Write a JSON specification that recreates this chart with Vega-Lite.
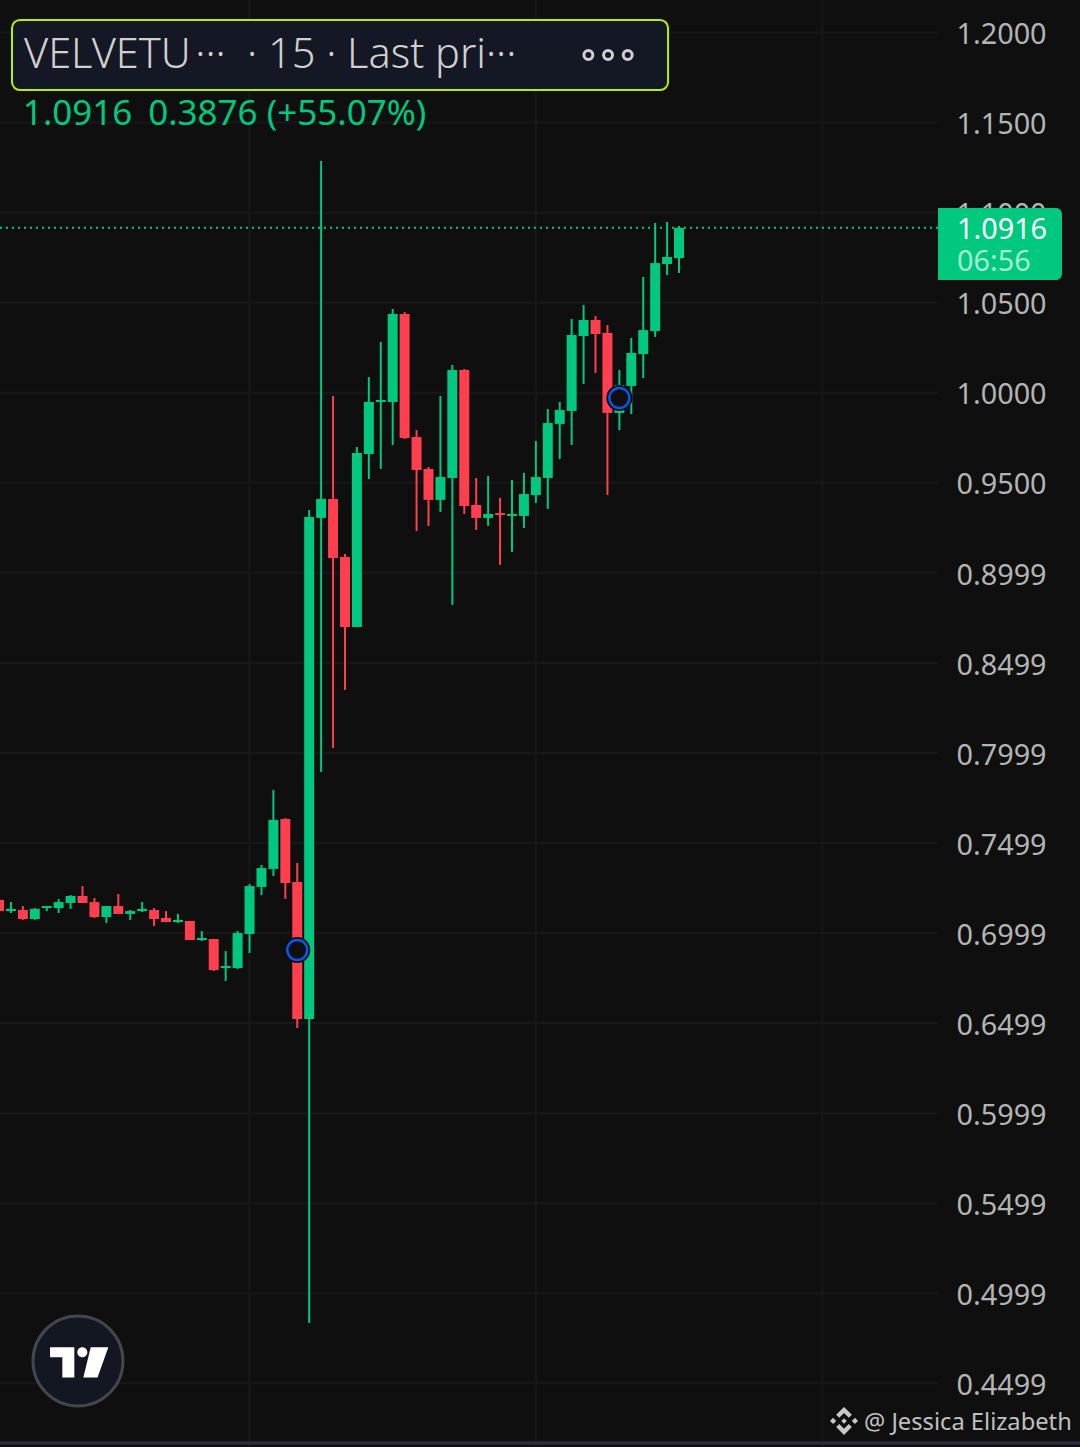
{
  "$schema": "https://vega.github.io/schema/vega-lite/v6.json",
  "width": 1080,
  "height": 1447,
  "padding": 0,
  "autosize": {"type": "none"},
  "background": "#0f0f0f",
  "config": {"view": {"stroke": null}, "font": "Noto Sans"},
  "data": {"values": [{}]},
  "datasets": {
    "candles": [
      {"bar": 0, "open": 0.7184, "high": 0.7184, "low": 0.7122, "close": 0.7122},
      {"bar": 1, "open": 0.7122, "high": 0.7172, "low": 0.7111, "close": 0.7134},
      {"bar": 2, "open": 0.7128, "high": 0.7150, "low": 0.7073, "close": 0.7078},
      {"bar": 3, "open": 0.7078, "high": 0.7139, "low": 0.7073, "close": 0.7134},
      {"bar": 4, "open": 0.7139, "high": 0.7150, "low": 0.7122, "close": 0.7150},
      {"bar": 5, "open": 0.7139, "high": 0.7189, "low": 0.7111, "close": 0.7172},
      {"bar": 6, "open": 0.7167, "high": 0.7211, "low": 0.7134, "close": 0.7206},
      {"bar": 7, "open": 0.7206, "high": 0.7261, "low": 0.7167, "close": 0.7167},
      {"bar": 8, "open": 0.7172, "high": 0.7195, "low": 0.7084, "close": 0.7089},
      {"bar": 9, "open": 0.7089, "high": 0.7150, "low": 0.7056, "close": 0.7150},
      {"bar": 10, "open": 0.7150, "high": 0.7217, "low": 0.7106, "close": 0.7106},
      {"bar": 11, "open": 0.7106, "high": 0.7128, "low": 0.7073, "close": 0.7122},
      {"bar": 12, "open": 0.7122, "high": 0.7172, "low": 0.7117, "close": 0.7134},
      {"bar": 13, "open": 0.7128, "high": 0.7139, "low": 0.7039, "close": 0.7078},
      {"bar": 14, "open": 0.7084, "high": 0.7122, "low": 0.7061, "close": 0.7061},
      {"bar": 15, "open": 0.7061, "high": 0.7106, "low": 0.7056, "close": 0.7073},
      {"bar": 16, "open": 0.7067, "high": 0.7067, "low": 0.6961, "close": 0.6961},
      {"bar": 17, "open": 0.6961, "high": 0.7011, "low": 0.6956, "close": 0.6973},
      {"bar": 18, "open": 0.6967, "high": 0.6967, "low": 0.6789, "close": 0.6795},
      {"bar": 19, "open": 0.6806, "high": 0.6900, "low": 0.6734, "close": 0.6817},
      {"bar": 20, "open": 0.6806, "high": 0.7011, "low": 0.6800, "close": 0.7000},
      {"bar": 21, "open": 0.6995, "high": 0.7272, "low": 0.6889, "close": 0.7261},
      {"bar": 22, "open": 0.7256, "high": 0.7378, "low": 0.7211, "close": 0.7361},
      {"bar": 23, "open": 0.7356, "high": 0.7794, "low": 0.7317, "close": 0.7628},
      {"bar": 24, "open": 0.7633, "high": 0.7639, "low": 0.7189, "close": 0.7278},
      {"bar": 25, "open": 0.7283, "high": 0.7389, "low": 0.6473, "close": 0.6523},
      {"bar": 26, "open": 0.6523, "high": 0.9349, "low": 0.4835, "close": 0.9310},
      {"bar": 27, "open": 0.9305, "high": 1.1287, "low": 0.7894, "close": 0.9410},
      {"bar": 28, "open": 0.9410, "high": 0.9982, "low": 0.8027, "close": 0.9082},
      {"bar": 29, "open": 0.9088, "high": 0.9105, "low": 0.8350, "close": 0.8699},
      {"bar": 30, "open": 0.8699, "high": 0.9699, "low": 0.8699, "close": 0.9666},
      {"bar": 31, "open": 0.9660, "high": 1.0087, "low": 0.9521, "close": 0.9949},
      {"bar": 32, "open": 0.9949, "high": 1.0282, "low": 0.9577, "close": 0.9960},
      {"bar": 33, "open": 0.9949, "high": 1.0465, "low": 0.9710, "close": 1.0437},
      {"bar": 34, "open": 1.0437, "high": 1.0448, "low": 0.9743, "close": 0.9749},
      {"bar": 35, "open": 0.9754, "high": 0.9793, "low": 0.9232, "close": 0.9571},
      {"bar": 36, "open": 0.9577, "high": 0.9588, "low": 0.9260, "close": 0.9405},
      {"bar": 37, "open": 0.9405, "high": 0.9982, "low": 0.9338, "close": 0.9532},
      {"bar": 38, "open": 0.9527, "high": 1.0154, "low": 0.8822, "close": 1.0126},
      {"bar": 39, "open": 1.0126, "high": 1.0132, "low": 0.9327, "close": 0.9371},
      {"bar": 40, "open": 0.9377, "high": 0.9527, "low": 0.9238, "close": 0.9305},
      {"bar": 41, "open": 0.9305, "high": 0.9538, "low": 0.9260, "close": 0.9327},
      {"bar": 42, "open": 0.9332, "high": 0.9416, "low": 0.9044, "close": 0.9321},
      {"bar": 43, "open": 0.9316, "high": 0.9516, "low": 0.9116, "close": 0.9327},
      {"bar": 44, "open": 0.9316, "high": 0.9555, "low": 0.9249, "close": 0.9438},
      {"bar": 45, "open": 0.9432, "high": 0.9732, "low": 0.9388, "close": 0.9532},
      {"bar": 46, "open": 0.9527, "high": 0.9910, "low": 0.9355, "close": 0.9832},
      {"bar": 47, "open": 0.9827, "high": 0.9949, "low": 0.9632, "close": 0.9904},
      {"bar": 48, "open": 0.9899, "high": 1.0410, "low": 0.9710, "close": 1.0321},
      {"bar": 49, "open": 1.0315, "high": 1.0487, "low": 1.0049, "close": 1.0404},
      {"bar": 50, "open": 1.0404, "high": 1.0426, "low": 1.0110, "close": 1.0326},
      {"bar": 51, "open": 1.0332, "high": 1.0376, "low": 0.9432, "close": 0.9888},
      {"bar": 52, "open": 0.9888, "high": 1.0126, "low": 0.9793, "close": 1.0043},
      {"bar": 53, "open": 1.0038, "high": 1.0304, "low": 0.9882, "close": 1.0221},
      {"bar": 54, "open": 1.0215, "high": 1.0643, "low": 1.0082, "close": 1.0348},
      {"bar": 55, "open": 1.0343, "high": 1.0943, "low": 1.0310, "close": 1.0720},
      {"bar": 56, "open": 1.0715, "high": 1.0948, "low": 1.0654, "close": 1.0754},
      {"bar": 57, "open": 1.0748, "high": 1.0926, "low": 1.0665, "close": 1.0916}
    ],
    "levels": [
      {"price": 1.2}, {"price": 1.15}, {"price": 1.1}, {"price": 1.05},
      {"price": 1.0}, {"price": 0.95}, {"price": 0.9}, {"price": 0.85},
      {"price": 0.8}, {"price": 0.75}, {"price": 0.7}, {"price": 0.65},
      {"price": 0.6}, {"price": 0.55}, {"price": 0.5}, {"price": 0.45}
    ],
    "sessions": [{"bar": 21}, {"bar": 45}, {"bar": 69}],
    "markers": [{"bar": 25, "price": 0.6906}, {"bar": 52, "price": 0.9971}],
    "menu": [{"bar": 49.4, "price": 1.1875}, {"bar": 51.05, "price": 1.1875}, {"bar": 52.7, "price": 1.1875}]
  },
  "encoding": {
    "x": {"type": "quantitative", "scale": {"domain": [0.0838, 90.61], "padding": 0}, "axis": null},
    "y": {
      "type": "quantitative",
      "scale": {"domain": [0.41463, 1.21808]},
      "axis": {
        "orient": "right",
        "offset": -124,
        "values": [1.2, 1.15, 1.1, 1.05, 1.0, 0.95, 0.8999, 0.8499, 0.7999, 0.7499, 0.6999, 0.6499, 0.5999, 0.5499, 0.4999, 0.4499],
        "format": ".4f",
        "domain": false,
        "ticks": false,
        "grid": false,
        "title": null,
        "labelAlign": "left",
        "labelBaseline": "middle",
        "labelPadding": 0,
        "labelOffset": 2,
        "labelFontSize": 28.8,
        "labelColor": "#b4b4b4",
        "labelFont": "Noto Sans",
        "labelOverlap": false,
        "labelBound": false,
        "labelFlush": false
      }
    }
  },
  "layer": [
    {
      "data": {"name": "sessions"},
      "mark": {"type": "rule", "color": "#181818", "strokeWidth": 2},
      "encoding": {"x": {"field": "bar"}, "y": null}
    },
    {
      "data": {"name": "levels"},
      "mark": {"type": "rule", "color": "#181818", "strokeWidth": 2},
      "encoding": {
        "y": {"field": "price"},
        "x": {"datum": 0.0838},
        "x2": {"datum": 78.71}
      }
    },
    {
      "mark": {"type": "rule", "color": "#00c97f", "strokeWidth": 2, "strokeDash": [2, 4]},
      "encoding": {
        "x": {"datum": 0.0838},
        "x2": {"datum": 78.71},
        "y": {"datum": 1.0916}
      }
    },
    {
      "data": {"name": "candles"},
      "mark": {"type": "rule", "strokeWidth": 2},
      "encoding": {
        "x": {"field": "bar"},
        "y": {"field": "low"},
        "y2": {"field": "high"},
        "color": {
          "condition": {"test": "datum.open < datum.close", "value": "#00c97f"},
          "value": "#ff3f4d"
        }
      }
    },
    {
      "data": {"name": "candles"},
      "mark": {"type": "bar", "size": 10, "orient": "vertical"},
      "encoding": {
        "x": {"field": "bar"},
        "y": {"field": "open"},
        "y2": {"field": "close"},
        "color": {
          "condition": {"test": "datum.open < datum.close", "value": "#00c97f"},
          "value": "#ff3f4d"
        }
      }
    },
    {
      "data": {"name": "markers"},
      "mark": {"type": "point", "shape": "circle", "filled": true, "size": 676, "color": "#0a0a0a", "opacity": 1},
      "encoding": {"x": {"field": "bar"}, "y": {"field": "price"}}
    },
    {
      "data": {"name": "markers"},
      "mark": {"type": "point", "shape": "circle", "filled": false, "size": 400, "stroke": "#0a55ea", "strokeWidth": 2.5, "fill": "#0f0f0f", "fillOpacity": 1, "opacity": 1},
      "encoding": {"x": {"field": "bar"}, "y": {"field": "price"}}
    },
    {
      "mark": {"type": "rect", "fill": "#141824", "stroke": "#b4f000", "strokeWidth": 2, "cornerRadius": 8},
      "encoding": {
        "x": {"datum": 1.09},
        "x2": {"datum": 56.08},
        "y": {"datum": 1.2070},
        "y2": {"datum": 1.1681}
      }
    },
    {
      "mark": {"type": "text", "align": "left", "baseline": "alphabetic", "fontSize": 41.5, "color": "#d0d0d0", "font": "Noto Sans", "fontWeight": 300},
      "encoding": {
        "x": {"datum": 2.095},
        "y": {"datum": 1.1804},
        "text": {"value": "VELVETU"}
      }
    },
    {
      "mark": {"type": "text", "align": "left", "baseline": "alphabetic", "fontSize": 41.5, "color": "#d0d0d0", "font": "Noto Sans", "fontWeight": 300},
      "encoding": {
        "x": {"datum": 16.45},
        "y": {"datum": 1.1804},
        "text": {"value": "···"}
      }
    },
    {
      "mark": {"type": "text", "align": "left", "baseline": "alphabetic", "fontSize": 41.5, "color": "#d0d0d0", "font": "Noto Sans", "fontWeight": 300},
      "encoding": {
        "x": {"datum": 20.79},
        "y": {"datum": 1.1804},
        "text": {"value": "· 15 · Last pri···"}
      }
    },
    {
      "data": {"name": "menu"},
      "mark": {"type": "point", "shape": "circle", "filled": false, "size": 80, "stroke": "#d0d0d0", "strokeWidth": 3, "opacity": 1},
      "encoding": {"x": {"field": "bar"}, "y": {"field": "price"}}
    },
    {
      "mark": {"type": "text", "align": "left", "baseline": "alphabetic", "fontSize": 35, "color": "#00c97f", "font": "Noto Sans"},
      "encoding": {
        "x": {"datum": 2.0},
        "y": {"datum": 1.1488},
        "text": {"value": "1.0916"}
      }
    },
    {
      "mark": {"type": "text", "align": "left", "baseline": "alphabetic", "fontSize": 35, "color": "#00c97f", "font": "Noto Sans"},
      "encoding": {
        "x": {"datum": 12.5},
        "y": {"datum": 1.1488},
        "text": {"value": "0.3876 (+55.07%)"}
      }
    },
    {
      "mark": {"type": "rect", "fill": "#00c97f", "cornerRadiusTopRight": 6, "cornerRadiusBottomRight": 6},
      "encoding": {
        "x": {"datum": 78.71},
        "x2": {"datum": 89.1},
        "y": {"datum": 1.1026},
        "y2": {"datum": 1.0626}
      }
    },
    {
      "mark": {"type": "text", "align": "left", "baseline": "alphabetic", "fontSize": 28.8, "color": "#ffffff", "font": "Noto Sans"},
      "encoding": {
        "x": {"datum": 80.3},
        "y": {"datum": 1.0853},
        "text": {"value": "1.0916"}
      }
    },
    {
      "mark": {"type": "text", "align": "left", "baseline": "alphabetic", "fontSize": 28.8, "color": "#a8ecd2", "font": "Noto Sans"},
      "encoding": {
        "x": {"datum": 80.3},
        "y": {"datum": 1.0676},
        "text": {"value": "06:56"}
      }
    },
    {
      "mark": {"type": "point", "shape": "circle", "filled": true, "size": 8100, "fill": "#131722", "stroke": "#43464f", "strokeWidth": 3, "opacity": 1},
      "encoding": {"x": {"datum": 6.62}, "y": {"datum": 0.4624}}
    },
    {
      "mark": {
        "type": "point",
        "shape": "M-0.983 -0.507L-0.173 -0.507L-0.173 0.507L-0.573 0.507L-0.573 -0.173L-0.983 -0.173ZM0.373 -0.507L0.96 -0.507L0.6 0.507L0.127 0.507ZM-0.074 -0.34a0.167 0.167 0 1 0 0.334 0a0.167 0.167 0 1 0 -0.334 0Z",
        "filled": true,
        "size": 3600,
        "color": "#ffffff",
        "opacity": 1
      },
      "encoding": {"x": {"datum": 6.75}, "y": {"datum": 0.4616}}
    },
    {
      "mark": {
        "type": "point",
        "shape": "M0 -0.2L0.2 0L0 0.2L-0.2 0ZM-1 0L-0.78 -0.22L-0.56 0L-0.78 0.22ZM1 0L0.78 -0.22L0.56 0L0.78 0.22ZM0 -1L0.56 -0.44L0.34 -0.22L0 -0.56L-0.34 -0.22L-0.56 -0.44ZM0 1L0.56 0.44L0.34 0.22L0 0.56L-0.34 0.22L-0.56 0.44Z",
        "filled": true,
        "size": 784,
        "color": "#c8c8c8",
        "opacity": 1
      },
      "encoding": {"x": {"datum": 70.83}, "y": {"datum": 0.4291}}
    },
    {
      "mark": {"type": "text", "align": "left", "baseline": "alphabetic", "fontSize": 23.7, "color": "#c0c0c0", "font": "Noto Sans"},
      "encoding": {
        "x": {"datum": 72.5},
        "y": {"datum": 0.4241},
        "text": {"value": "@ Jessica Elizabeth"}
      }
    },
    {
      "mark": {"type": "rule", "color": "#2a2e39", "strokeWidth": 3.5},
      "encoding": {"y": {"datum": 0.41685}, "x": null}
    }
  ]
}
